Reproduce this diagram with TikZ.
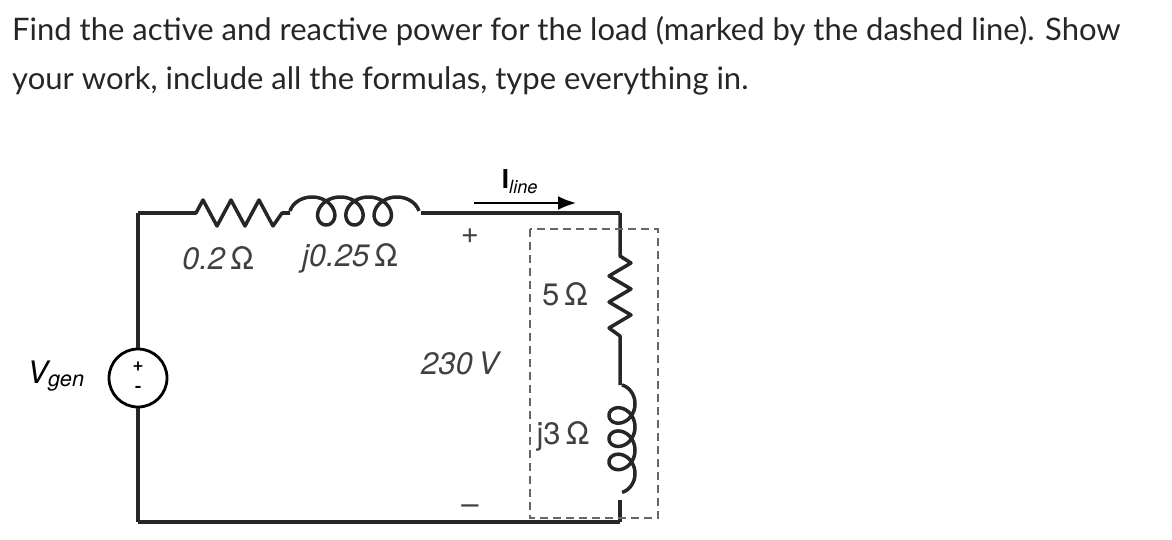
\documentclass[tikz,border=0pt]{standalone}
\usepackage{fontspec}
\usetikzlibrary{arrows.meta}
\setmainfont{Lato}
\newfontfamily\cfont{TeX Gyre Heros}
\begin{document}
\begin{tikzpicture}[x=1pt,y=-1pt,
  wire/.style={line width=3.5pt,black!85,line join=round},
  lbl/.style={font=\cfont\fontsize{31}{31}\selectfont,text=black!75,inner sep=0pt},
  title/.style={font=\fontsize{31}{31}\selectfont,anchor=base west,inner sep=0pt,text=black!85}]
\useasboundingbox (0,0) rectangle (1172,540);
\node[title] (t1) at (12,41) {Find the active and reactive power for the load (marked by the dashed line). Show};
\node[title] (t2) at (12,90) {your work, include all the formulas, type everything in.};
% coordinates
\coordinate (tl) at (138,213);
\coordinate (bl) at (138,522);
\coordinate (tr) at (620,213);
\coordinate (br) at (620,522);
\node[draw,circle,line width=2.8pt,minimum size=58pt,inner sep=0pt] (src) at (138,378) {};
\node[inner sep=0pt,font=\bfseries\fontsize{18}{18}\selectfont] (sp) at (138,367) {+};
\node[inner sep=0pt,font=\bfseries\fontsize{20}{20}\selectfont] (sm) at (138,390) {-};
\draw[wire] (tl) -- (src.north);
\draw[wire] (bl) -- (src.south);
\draw[wire] (bl) -- (br);
% top resistor
\draw[wire] (tl) -- (196,213) -- (203,200) -- (217,226) -- (231,200) -- (245,226) -- (259,200) -- (273,226) -- (282,213) -- (290,213);
% top inductor
\draw[wire] plot[domain=0.5*pi:7.5*pi,samples=250,variable=\t] ({290+15+4.5*\t-15*sin(\t r)-7.07},{211+14*cos(\t r)});
\coordinate (ie) at (421,213);
\draw[wire] (ie) -- (tr);
% right resistor
\draw[wire] (tr) -- (620,256) -- (631,263) -- (609,276) -- (631,289) -- (609,302) -- (631,315) -- (609,328) -- (620,336) -- (620,385);
% right inductor
\draw[wire] plot[domain=0.5*pi:7.5*pi,samples=250,variable=\t] ({622-13*cos(\t r)},{385+13+3.7*\t-13*sin(\t r)-5.81});
\draw[wire] (620,500) -- (br);
% dashed box
\draw[line width=1.5pt,black!60,dash pattern=on 8pt off 5pt] (530,229) rectangle (658,518);
% labels
\node[lbl] (l1) at (218,258) {\itshape 0.2\,\upshape Ω};
\node[lbl] (l2) at (350,258) {\itshape j0.25\,\upshape Ω};
\node[lbl] (l3) at (565,294) {5\,Ω};
\node[lbl] (l4) at (563,436) {j3\,Ω};
\node[lbl] (l5) at (460,363) {\itshape 230\,V};
\node[lbl] (pl) at (470,236) {+};
\node[lbl] (mi) at (470,510) {\textendash};
\node[lbl,text=black,font=\cfont\fontsize{26}{26}\selectfont] (il) at (520,182) {\textbf{I}\textsubscript{\itshape line}};
\coordinate (a1) at (474,203);
\coordinate (a2) at (576,203);
\draw[line width=2pt,-{Latex[length=18pt,width=14pt]}] (a1) -- (a2);
\node[lbl,text=black] (vg) at (56,376) {\itshape V\textsubscript{gen}};
\end{tikzpicture}
\end{document}
